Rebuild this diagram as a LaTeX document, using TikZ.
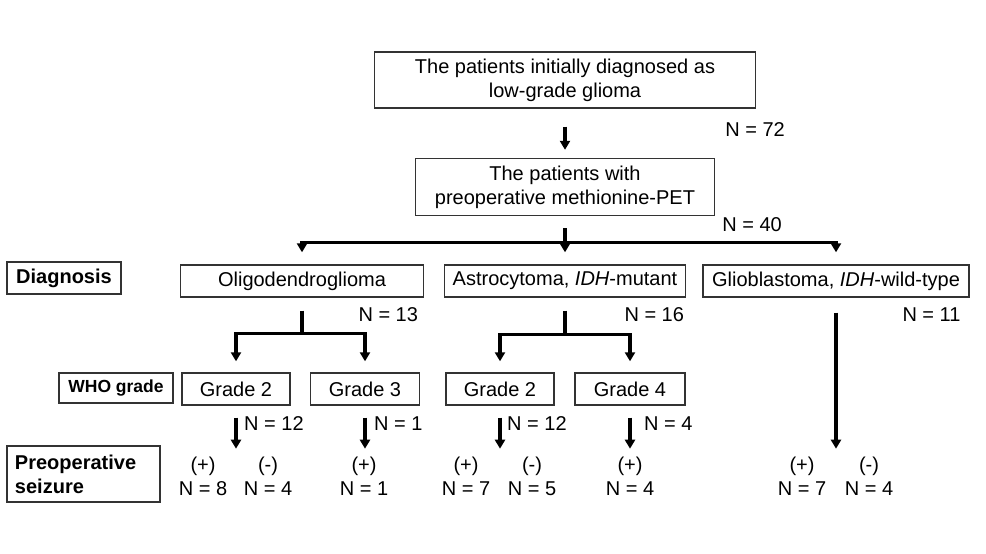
\documentclass[tikz,border=0pt]{standalone}
\usepackage{fontspec}
\setmainfont{Liberation Sans}
\usetikzlibrary{arrows.meta, positioning}

\newcommand{\normtxt}{\fontsize{20}{24}\selectfont}
\newcommand{\headtxt}{\fontsize{20}{24}\selectfont\bfseries}

\begin{document}
\begin{tikzpicture}[x = 1pt, y = -1pt,
  box/.style = {draw = black!80, line width = 1.4pt, font = \normtxt, inner sep = 0pt, minimum height = 32pt},
  head/.style = {box, font = \headtxt},
  num/.style = {font = \normtxt, inner sep = 0pt},
  res/.style = {font = \normtxt, inner sep = 0pt, align = center},
  link/.style = {line width = 3.2pt},
  arr/.style = {link, -{Triangle[width = 10pt, length = 9pt]}}]
\useasboundingbox (0,0) rectangle (986,554);
% patients
\node[box, minimum width = 381pt, minimum height = 56pt, align = center] (lgg) at (565,80) {The patients initially diagnosed as\\low-grade glioma};
\node[box, minimum width = 299pt, minimum height = 57pt, align = center] (pet) at (565,187) {The patients with\\preoperative methionine-PET};
\node[num, anchor = east] (n72) at (785,130) {N = 72};
\node[num, anchor = east] (n40) at (782,225) {N = 40};
% diagnosis row
\node[head, minimum width = 114pt] (diag) at (64,278) {Diagnosis};
\node[box, minimum width = 243pt] (olig) at (302,281) {Oligodendroglioma};
\node[box, minimum width = 241pt] (astro) at (565,281) {Astrocytoma, \textit{IDH}-mutant};
\node[box, minimum width = 266pt] (glio) at (836,281) {Glioblastoma, \textit{IDH}-wild-type};
\node[num, below left = 10pt and 6pt of olig.south east] (n13) {N = 13};
\node[num, below left = 10pt and 2pt of astro.south east] (n16) {N = 16};
\node[num, below left = 10pt and 9pt of glio.south east] (n11) {N = 11};
% grade row
\node[head, font = \fontsize{17.5}{21}\selectfont\bfseries, minimum width = 114pt, minimum height = 30pt] (who) at (116,388) {WHO grade};
\node[box, minimum width = 108pt] (og2) at (236,389) {Grade 2};
\node[box, minimum width = 109pt] (og3) at (365,389) {Grade 3};
\node[box, minimum width = 108pt] (ag2) at (500,389) {Grade 2};
\node[box, minimum width = 110pt] (ag4) at (630,389) {Grade 4};
\node[num, below right = 11pt and 8pt of og2.south] (n12a) {N = 12};
\node[num, below right = 11pt and 9pt of og3.south] (n1) {N = 1};
\node[num, below right = 11pt and 7pt of ag2.south] (n12b) {N = 12};
\node[num, below right = 11pt and 14pt of ag4.south] (n4) {N = 4};
% seizure row
\node[head, text width = 137pt, inner xsep = 8pt, minimum height = 56pt, align = left] (seiz) at (83.5,474) {Preoperative\\seizure};
\node[res] (o2p) at (203,476) {(+)\\N = 8};
\node[res] (o2n) at (268,476) {(-)\\N = 4};
\node[res] (o3p) at (364,476) {(+)\\N = 1};
\node[res] (a2p) at (466,476) {(+)\\N = 7};
\node[res] (a2n) at (532,476) {(-)\\N = 5};
\node[res] (a4p) at (630,476) {(+)\\N = 4};
\node[res] (gp) at (802,476) {(+)\\N = 7};
\node[res] (gn) at (869,476) {(-)\\N = 4};
% arrows
\draw[arr] ([yshift=-18pt]lgg.south) -- ([yshift=8pt]pet.north);
\coordinate (split) at ([yshift=-26pt]pet.south);
\draw[arr] ([yshift=-12pt]pet.south) -- ([yshift=12pt]astro.north);
\draw[arr] (split) -| ([yshift=12pt]olig.north);
\draw[arr] (split) -| ([yshift=12pt]glio.north);
\coordinate (osplit) at ([yshift=-36pt]olig.south);
\draw[link] ([yshift=-13pt]olig.south) -- (osplit);
\draw[arr] (osplit) -| ([yshift=11pt]og2.north);
\draw[arr] (osplit) -| ([yshift=11pt]og3.north);
\coordinate (asplit) at ([yshift=-37pt]astro.south);
\draw[link] ([yshift=-13pt]astro.south) -- (asplit);
\draw[arr] (asplit) -| ([yshift=11pt]ag2.north);
\draw[arr] (asplit) -| ([yshift=11pt]ag4.north);
\draw[arr] ([yshift=-12pt]og2.south) -- ([yshift=-43pt]og2.south);
\draw[arr] ([yshift=-12pt]og3.south) -- ([yshift=-43pt]og3.south);
\draw[arr] ([yshift=-12pt]ag2.south) -- ([yshift=-43pt]ag2.south);
\draw[arr] ([yshift=-12pt]ag4.south) -- ([yshift=-43pt]ag4.south);
\draw[arr] ([yshift=-15pt]glio.south) -- ([yshift=-151pt]glio.south);
\end{tikzpicture}
\end{document}
